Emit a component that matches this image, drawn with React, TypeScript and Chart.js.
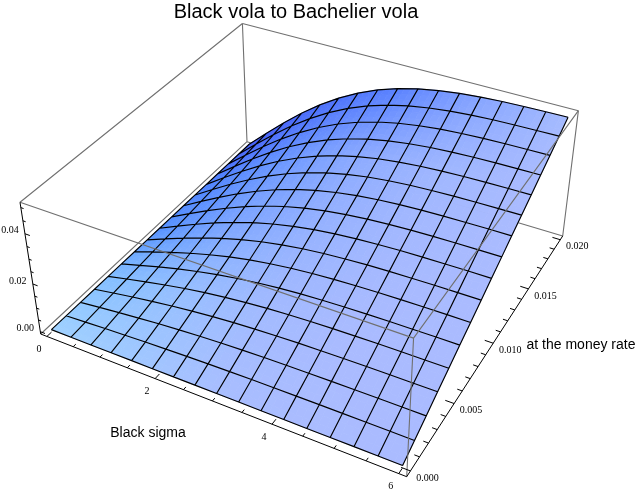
import { useEffect, useRef } from 'react'
import { Chart, registerables } from 'chart.js'

Chart.register(...registerables)

const sigmas = [0, 0.375, 0.75, 1.125, 1.5, 1.875, 2.25, 2.625, 3, 3.375, 3.75, 4.125, 4.5, 4.875, 5.25, 5.625, 6]
const rates = [0, 0.00125, 0.0025, 0.00375, 0.005, 0.00625, 0.0075, 0.00875, 0.01, 0.01125, 0.0125, 0.01375, 0.015, 0.01625, 0.0175, 0.01875, 0.02]

// bachelier vol, one row per sigma, one column per rate
const vols = [
  [0, 0, 0, 0, 0, 0, 0, 0, 0, 0, 0, 0, 0, 0, 0, 0, 0],
  [0, .00047, .00093, .0014, .00186, .00233, .0028, .00326, .00373, .00419, .00466, .00513, .00559, .00606, .00652, .00699, .00746],
  [0, .00092, .00183, .00275, .00366, .00458, .0055, .00641, .00733, .00824, .00916, .01008, .01099, .01191, .01282, .01374, .01466],
  [0, .00134, .00267, .00401, .00534, .00668, .00802, .00935, .01069, .01202, .01336, .0147, .01603, .01737, .0187, .02004, .02138],
  [0, .00171, .00343, .00514, .00685, .00857, .01028, .01199, .0137, .01542, .01713, .01884, .02056, .02227, .02398, .0257, .02741],
  [0, .00204, .00408, .00612, .00816, .01021, .01225, .01429, .01633, .01837, .02041, .02245, .02449, .02653, .02857, .03062, .03266],
  [0, .00232, .00463, .00695, .00927, .01159, .0139, .01622, .01854, .02085, .02317, .02549, .0278, .03012, .03244, .03476, .03707],
  [0, .00254, .00508, .00762, .01016, .0127, .01524, .01778, .02032, .02286, .0254, .02794, .03048, .03302, .03556, .0381, .04064],
  [0, .00271, .00543, .00814, .01086, .01358, .01629, .01901, .02172, .02444, .02715, .02987, .03258, .0353, .03801, .04073, .04344],
  [0, .00285, .00569, .00854, .01139, .01424, .01708, .01993, .02278, .02562, .02847, .03132, .03416, .03701, .03986, .04271, .04555],
  [0, .00294, .00589, .00883, .01177, .01472, .01766, .0206, .02354, .02649, .02943, .03237, .03532, .03826, .0412, .04415, .04709],
  [0, .00301, .00602, .00903, .01204, .01506, .01807, .02108, .02409, .0271, .03011, .03312, .03613, .03914, .04215, .04517, .04818],
  [0, .00306, .00611, .00917, .01223, .01529, .01834, .0214, .02446, .02751, .03057, .03363, .03668, .03974, .0428, .04586, .04891],
  [0, .00309, .00617, .00926, .01235, .01544, .01852, .02161, .0247, .02778, .03087, .03396, .03704, .04013, .04322, .04631, .04939],
  [0, .00311, .00621, .00932, .01242, .01553, .01864, .02174, .02485, .02795, .03106, .03417, .03727, .04038, .04348, .04659, .0497],
  [0, .00312, .00624, .00935, .01247, .01559, .01871, .02183, .02494, .02806, .03118, .0343, .03742, .04053, .04365, .04677, .04989],
  [0, .00313, .00625, .00938, .0125, .01563, .01875, .02188, .025, .02813, .03125, .03438, .0375, .04063, .04375, .04688, .05],
]

const sigmaTicks = [0, 0.5, 1, 1.5, 2, 2.5, 3, 3.5, 4, 4.5, 5, 5.5, 6]
const sigmaLabels = ['0', '2', '4', '6']
const rateTicks = [0, .001, .002, .003, .004, .005, .006, .007, .008, .009, .01, .011, .012, .013, .014, .015, .016, .017, .018, .019, .02]
const rateLabels = ['0.000', '0.005', '0.010', '0.015', '0.020']
const volTicks = [0, .005, .01, .015, .02, .025, .03, .035, .04, .045, .05]
const volLabels = ['0.00', '0.02', '0.04']

// shading: rows go sigma 0, 1.5, 3, 4.5, 6, columns rate 0, .005, .01, .015, .02
const shadeR = [
  [160, 130, 85, 78, 70],
  [160, 150, 125, 105, 75],
  [168, 162, 150, 140, 90],
  [170, 170, 165, 160, 135],
  [170, 170, 170, 170, 165],
]
const shadeG = [
  [210, 190, 145, 130, 90],
  [200, 190, 165, 150, 110],
  [190, 186, 178, 170, 130],
  [188, 187, 185, 183, 165],
  [187, 187, 187, 187, 187],
]
const shadeB = [
  [255, 255, 255, 255, 245],
  [255, 255, 255, 255, 250],
  [255, 255, 255, 255, 255],
  [255, 255, 255, 255, 255],
  [255, 255, 255, 255, 255],
]

// the box, with some padding around the plot range
const S0 = -0.12, S1 = 6.12
const R0 = -0.0004, R1 = 0.0204
const Z0 = -0.001, Z1 = 0.052

// box corners on screen, used to fit the perspective
const A = [40.7, 334], B = [406.7, 476.7], C = [562.7, 236], D = [247, 141.7], Atop = [20, 202.3]
const sx = A[0] - B[0] + C[0] - D[0], sy = A[1] - B[1] + C[1] - D[1]
const dx1 = B[0] - C[0], dx2 = D[0] - C[0], dy1 = B[1] - C[1], dy2 = D[1] - C[1]
const det = dx1 * dy2 - dx2 * dy1
const gu = (sx * dy2 - dx2 * sy) / det
const gv = (dx1 * sy - sx * dy1) / det
const gw = -0.068

function depth(s: number, r: number, z: number) {
  const u = (s - S0) / (S1 - S0), v = (r - R0) / (R1 - R0), w = (z - Z0) / (Z1 - Z0)
  return 1 + gu * u + gv * v + gw * w
}

function project(s: number, r: number, z: number) {
  const u = (s - S0) / (S1 - S0), v = (r - R0) / (R1 - R0), w = (z - Z0) / (Z1 - Z0)
  const q = depth(s, r, z)
  const c = (i: number) =>
    (A[i] + (B[i] * (1 + gu) - A[i]) * u + (D[i] * (1 + gv) - A[i]) * v + (Atop[i] * (1 + gw) - A[i]) * w) / q
  return { x: c(0), y: c(1) }
}

const GAP = { x: null, y: null }

function path3d(pts: number[][]) {
  return pts.map(p => project(p[0], p[1], p[2]))
}

const boxLine = (a: number[], b: number[]) => [...path3d([a, b]), GAP]
const backBox = [
  ...boxLine([S0, R0, Z0], [S0, R1, Z0]),
  ...boxLine([S0, R1, Z0], [S1, R1, Z0]),
  ...boxLine([S0, R1, Z0], [S0, R1, Z1]),
  ...boxLine([S1, R1, Z0], [S1, R1, Z1]),
  ...boxLine([S0, R0, Z1], [S0, R1, Z1]),
  ...boxLine([S0, R1, Z1], [S1, R1, Z1]),
]
const frontBox = [
  ...boxLine([S0, R0, Z1], [S1, R0, Z1]),
  ...boxLine([S1, R0, Z1], [S1, R1, Z1]),
  ...boxLine([S1, R0, Z0], [S1, R0, Z1]),
]
const axes = [
  ...boxLine([S0, R0, Z0], [S1, R0, Z0]),
  ...boxLine([S1, R0, Z0], [S1, R1, Z0]),
  ...boxLine([S0, R0, Z0], [S0, R0, Z1]),
]

const ticks = [
  ...sigmaTicks.flatMap((s, i) => boxLine([s, R0, Z0], [s, R0 + (i % 4 ? .00022 : .00038), Z0])),
  ...rateTicks.flatMap((r, i) => boxLine([S1, r, Z0], [S1 - (i % 5 ? .08 : .14), r, Z0])),
  ...volTicks.flatMap((z, i) => boxLine([S0, R0, z], [S0 + (i % 4 ? .05 : .09), R0, z])),
]

const mesh = [
  ...sigmas.flatMap((s, i) => [...path3d(rates.map((r, j) => [s, r, vols[i][j]])), GAP]),
  ...rates.flatMap((r, j) => [...path3d(sigmas.map((s, i) => [s, r, vols[i][j]])), GAP]),
]

function shadeAt(table: number[][], s: number, r: number) {
  const fi = Math.min(s / 1.5, 3.999), fj = Math.min(r / .005, 3.999)
  const i = Math.floor(fi), j = Math.floor(fj)
  const f = fi - i, g = fj - j
  return table[i][j] * (1 - f) * (1 - g) + table[i + 1][j] * f * (1 - g) + table[i][j + 1] * (1 - f) * g + table[i + 1][j + 1] * f * g
}

const surfacePlugin = {
  id: 'surface',
  beforeDatasetDraw(chart: any, args: any) {
    if (chart.data.datasets[args.index].label !== 'mesh') return
    const { ctx, scales } = chart
    const cells: number[][] = []
    for (let i = 0; i < sigmas.length - 1; i++) {
      for (let j = 0; j < rates.length - 1; j++) cells.push([i, j])
    }
    const dist = (c: number[]) => depth(sigmas[c[0]] + .18, rates[c[1]] + .0006, vols[c[0]][c[1]])
    cells.sort((a, b) => dist(b) - dist(a))
    const N = 3
    const at = (i: number, j: number, f: number, g: number) => {
      const z = vols[i][j] * (1 - f) * (1 - g) + vols[i + 1][j] * f * (1 - g) + vols[i][j + 1] * (1 - f) * g + vols[i + 1][j + 1] * f * g
      const pt = project(sigmas[i] + (sigmas[i + 1] - sigmas[i]) * f, rates[j] + (rates[j + 1] - rates[j]) * g, z)
      return [scales.x.getPixelForValue(pt.x), scales.y.getPixelForValue(pt.y)]
    }
    ctx.save()
    ctx.lineWidth = 0.8
    for (const [i, j] of cells) {
      for (let a = 0; a < N; a++) {
        for (let b = 0; b < N; b++) {
          const s = sigmas[i] + (sigmas[i + 1] - sigmas[i]) * (a + .5) / N
          const r = rates[j] + (rates[j + 1] - rates[j]) * (b + .5) / N
          const css = `rgb(${Math.round(shadeAt(shadeR, s, r))},${Math.round(shadeAt(shadeG, s, r))},${Math.round(shadeAt(shadeB, s, r))})`
          ctx.fillStyle = css
          ctx.strokeStyle = css
          ctx.beginPath()
          const corners = [at(i, j, a / N, b / N), at(i, j, (a + 1) / N, b / N), at(i, j, (a + 1) / N, (b + 1) / N), at(i, j, a / N, (b + 1) / N)]
          ctx.moveTo(corners[0][0], corners[0][1])
          corners.slice(1).forEach(c => ctx.lineTo(c[0], c[1]))
          ctx.closePath()
          ctx.fill()
          ctx.stroke()
        }
      }
    }
    ctx.restore()
  },
}

const textPlugin = {
  id: 'texts',
  afterDraw(chart: any) {
    const { ctx, scales } = chart
    const put = (text: string, x: number, y: number, font: string) => {
      ctx.font = font
      ctx.fillText(text, scales.x.getPixelForValue(x), scales.y.getPixelForValue(y))
    }
    ctx.save()
    ctx.fillStyle = '#000'
    ctx.textAlign = 'center'
    ctx.textBaseline = 'middle'
    const tickFont = '10px "Liberation Serif"'
    sigmaLabels.forEach(l => {
      const p = project(Number(l), R0, Z0)
      put(l, p.x - 8, p.y + 13, tickFont)
    })
    rateLabels.forEach(l => {
      const p = project(S1, Number(l), Z0)
      put(l, p.x + 17, p.y + 7, tickFont)
    })
    volLabels.forEach(l => {
      const p = project(S0, R0, Number(l))
      put(l, p.x - 15, p.y - 3, tickFont)
    })
    put('Black vola to Bachelier vola', 296, 12, '20px "Liberation Sans"')
    put('Black sigma', 148, 433, '14px "Liberation Sans"')
    put('at the money rate', 581, 345, '14px "Liberation Sans"')
    ctx.restore()
  },
}

export default function App() {
  const canvasRef = useRef<HTMLCanvasElement>(null)

  useEffect(() => {
    if (!canvasRef.current) return
    const line = (label: string, data: any[], color: string, width: number, order: number) => ({
      label, data, borderColor: color, borderWidth: width, order,
      showLine: true, pointRadius: 0, spanGaps: false, fill: false, tension: 0,
    })
    const chart = new Chart(canvasRef.current, {
      type: 'scatter',
      data: {
        datasets: [
          line('backBox', backBox, '#707070', 1.1, 5),
          line('mesh', mesh, '#000000', 1.15, 3),
          line('frontBox', frontBox, '#707070', 1.1, 2),
          line('axes', axes, '#000000', 1, 1),
          line('ticks', ticks, '#000000', 1, 1),
        ],
      },
      options: {
        responsive: false,
        animation: false,
        devicePixelRatio: 1,
        layout: { padding: 0 },
        plugins: { legend: { display: false }, tooltip: { enabled: false } },
        scales: {
          x: { type: 'linear', display: false, min: 0, max: 640 },
          y: { type: 'linear', display: false, min: 0, max: 493, reverse: true },
        },
      },
      plugins: [surfacePlugin, textPlugin],
    })
    return () => chart.destroy()
  }, [])

  return (
    <div style={{ position: 'absolute', left: 0, top: 0 }}>
      <canvas ref={canvasRef} width={640} height={493} style={{ display: 'block' }} />
    </div>
  )
}
